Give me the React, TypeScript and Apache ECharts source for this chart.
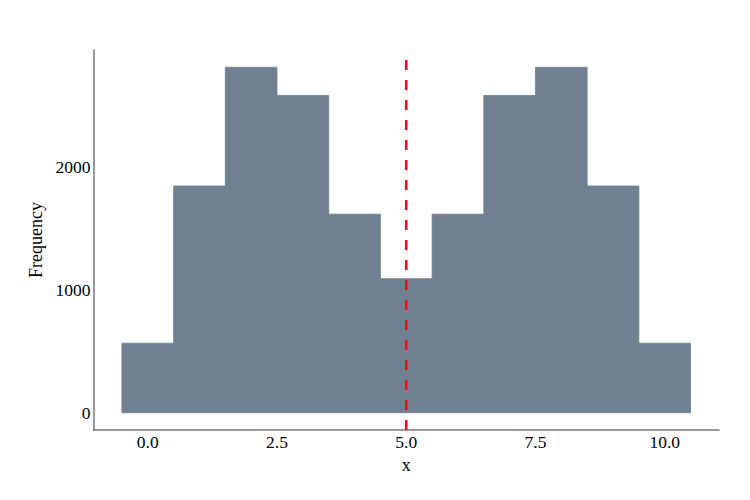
import React, { useEffect, useRef } from "react";
import * as echarts from "echarts";

const binCenters = [0, 1, 2, 3, 4, 5, 6, 7, 8, 9, 10];
const counts = [566, 1845, 2811, 2582, 1616, 1091, 1616, 2582, 2811, 1845, 566];
const xTicks = [0, 2.5, 5, 7.5, 10];
const yTicks = [0, 1000, 2000];
const meanLine = 5;

const FONT = "'Liberation Serif', 'DejaVu Serif', serif";
const BAR = "#708090";

export default function App() {
  const ref = useRef<HTMLDivElement>(null);
  useEffect(() => {
    if (!ref.current) return;
    const chart = echarts.init(ref.current, null, { renderer: "svg" });
    const maxC = Math.max(...counts);
    const yMin = -0.05 * maxC;
    const yMax = 1.05 * maxC;
    const xLo = binCenters[0] - 0.5;
    const xHi = binCenters[binCenters.length - 1] + 0.5;
    const xPad = (xHi - xLo) * 0.05;
    chart.setOption({
      animation: false,
      backgroundColor: "#fff",
      grid: { left: 93.5, right: 31, top: 50, bottom: 70, containLabel: false },
      xAxis: {
        type: "value",
        min: xLo - xPad,
        max: xHi + xPad,
        name: "x",
        nameLocation: "middle",
        nameGap: 24,
        nameTextStyle: { fontFamily: FONT, fontSize: 18, color: "#000" },
        axisLine: { show: true, onZero: false, lineStyle: { color: "#777", width: 1.5 } },
        axisTick: { show: false, customValues: xTicks },
        splitLine: { show: false },
        axisLabel: {
          customValues: xTicks,
          formatter: (v: number) => v.toFixed(1),
          fontFamily: FONT,
          fontSize: 17.5,
          color: "#000",
          margin: 3,
        },
      },
      yAxis: {
        type: "value",
        min: yMin,
        max: yMax,
        name: "Frequency",
        nameLocation: "middle",
        nameGap: 48,
        nameTextStyle: { fontFamily: FONT, fontSize: 18, color: "#000" },
        axisLine: { show: true, onZero: false, lineStyle: { color: "#777", width: 1.5 } },
        axisTick: { show: false, customValues: yTicks },
        splitLine: { show: false },
        axisLabel: {
          customValues: yTicks,
          formatter: (v: number) => String(v),
          fontFamily: FONT,
          fontSize: 17.5,
          color: "#000",
          margin: 3,
        },
      },
      series: [
        {
          type: "custom",
          data: binCenters.map((c, i) => [c, counts[i]]),
          renderItem: (_params: any, api: any) => {
            const x = api.value(0);
            const y = api.value(1);
            const p0 = api.coord([x - 0.5, 0]);
            const p1 = api.coord([x + 0.5, y]);
            return {
              type: "rect",
              shape: { x: p0[0], y: p1[1], width: p1[0] - p0[0], height: p0[1] - p1[1] },
              style: { fill: BAR, stroke: BAR, lineWidth: 0.8 },
            };
          },
          z: 1,
        },
        {
          type: "line",
          data: [
            [meanLine, yMin],
            [meanLine, yMax],
          ],
          symbol: "none",
          lineStyle: { color: "#e8111b", width: 2.6, type: [10, 10] },
          z: 3,
        },
      ],
    });
    return () => chart.dispose();
  }, []);
  return (
    <div
      ref={ref}
      style={{ position: "fixed", left: 0, top: 0, width: 750, height: 500, background: "#fff" }}
    />
  );
}
